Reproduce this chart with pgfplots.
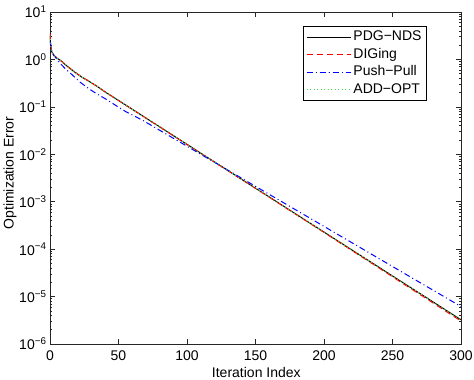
\documentclass[border=0pt]{standalone}
\usepackage{pgfplots}
\pgfplotsset{compat=1.18}
\usetikzlibrary{calc}
\usepackage{fontspec}
\setmainfont{Liberation Sans}
\definecolor{addgreen}{rgb}{0.3,0.85,0.3}
\begin{document}
\begin{tikzpicture}
\begin{axis}[
  scale only axis,
  width=411pt, height=332pt,
  ymode=log,
  xmin=0, xmax=300,
  ymin=1e-6, ymax=10,
  xtick={0,50,100,150,200,250,300},
  ytick={1e-6,1e-5,1e-4,1e-3,1e-2,1e-1,1,10},
  minor ytick={2e-6,3e-6,4e-6,5e-6,6e-6,7e-6,8e-6,9e-6,
    2e-5,3e-5,4e-5,5e-5,6e-5,7e-5,8e-5,9e-5,
    2e-4,3e-4,4e-4,5e-4,6e-4,7e-4,8e-4,9e-4,
    2e-3,3e-3,4e-3,5e-3,6e-3,7e-3,8e-3,9e-3,
    2e-2,3e-2,4e-2,5e-2,6e-2,7e-2,8e-2,9e-2,
    0.2,0.3,0.4,0.5,0.6,0.7,0.8,0.9,
    2,3,4,5,6,7,8,9},
  yticklabels={10\textsuperscript{−6},10\textsuperscript{−5},10\textsuperscript{−4},10\textsuperscript{−3},10\textsuperscript{−2},10\textsuperscript{−1},10\textsuperscript{0},10\textsuperscript{1}},
  /pgf/number format/assume math mode=true,
  tick align=inside,
  xtick pos=both, ytick pos=both,
  major tick length=5pt, minor tick length=2.5pt,
  axis line style={black!85, line width=0.9pt},
  every tick/.style={black!85, line width=0.6pt},
  tick label style={font=\fontsize{14}{16}\selectfont},
  xticklabel style={yshift=-3pt},
  label style={font=\fontsize{14}{16}\selectfont},
  xlabel={Iteration Index},
  ylabel={Optimization Error},
  xlabel style={at={(axis description cs:0.502,0)}, anchor=base, yshift=-33pt},
  ylabel style={at={(axis description cs:-0.1217,0.515)}, anchor=north},
  legend cell align=left,
  legend style={at={(0.917,0.958)}, anchor=north east, line width=0.8pt,
    font=\fontsize{14}{16}\selectfont, inner xsep=3pt, inner ysep=2pt, row sep=0pt,
    nodes={text height=10.5pt, text depth=3.5pt, inner ysep=1.75pt}},
  legend image post style={xscale=2.6, line width=1pt},
]
\addplot[draw=black, line width=1pt] coordinates {
(0,3.16) (0.5,2.0) (1,1.51) (2,1.32) (3,1.20) (5,1.07) (8,0.933) (12,0.741) (17,0.569) (23,0.427) (29,0.339) (35,0.263) (41,0.1995) (47,0.155) (60,0.0891) (80,0.038) (100,0.0162) (150,0.00193) (200,2.29e-4) (250,2.72e-5) (300,3.24e-6)};
\addlegendentry{PDG−NDS}
\addplot[draw=red, line width=1pt, dash pattern=on 6pt off 4pt] coordinates {
(0,3.5) (0.5,2.1) (1,1.55) (2,1.34) (3,1.21) (5,1.08) (8,0.94) (12,0.745) (17,0.572) (23,0.43) (29,0.34) (35,0.263) (41,0.1995) (47,0.155) (60,0.089) (80,0.0378) (100,0.0161) (150,0.00191) (200,2.25e-4) (250,2.62e-5) (300,3.05e-6)};
\addlegendentry{DIGing}
\addplot[draw=blue, line width=1pt, dash pattern=on 6pt off 3pt on 1pt off 3pt] coordinates {
(0,2.4) (1,1.58) (3,1.20) (7,0.851) (11,0.646) (16,0.479) (22,0.331) (29,0.234) (35,0.182) (41,0.1445) (54,0.0832) (68,0.0513) (100,0.0148) (150,0.00211) (200,3.02e-4) (250,4.31e-5) (300,6.17e-6)};
\addlegendentry{Push−Pull}
\addplot[draw=addgreen, line width=1pt, dash pattern=on 1pt off 2.5pt] coordinates {
(0,3.16) (0.5,2.0) (1,1.51) (2,1.32) (3,1.20) (5,1.07) (8,0.933) (12,0.741) (17,0.569) (23,0.427) (29,0.339) (35,0.263) (41,0.1995) (47,0.155) (60,0.0891) (80,0.038) (100,0.0162) (150,0.00193) (200,2.29e-4) (250,2.72e-5) (300,3.24e-6)};
\addlegendentry{ADD−OPT}
\end{axis}
\pgfresetboundingbox
\path ($(current axis.south west)+(-50pt,-36pt)$) rectangle ($(current axis.north east)+(13pt,12pt)$);
\end{tikzpicture}
\end{document}
